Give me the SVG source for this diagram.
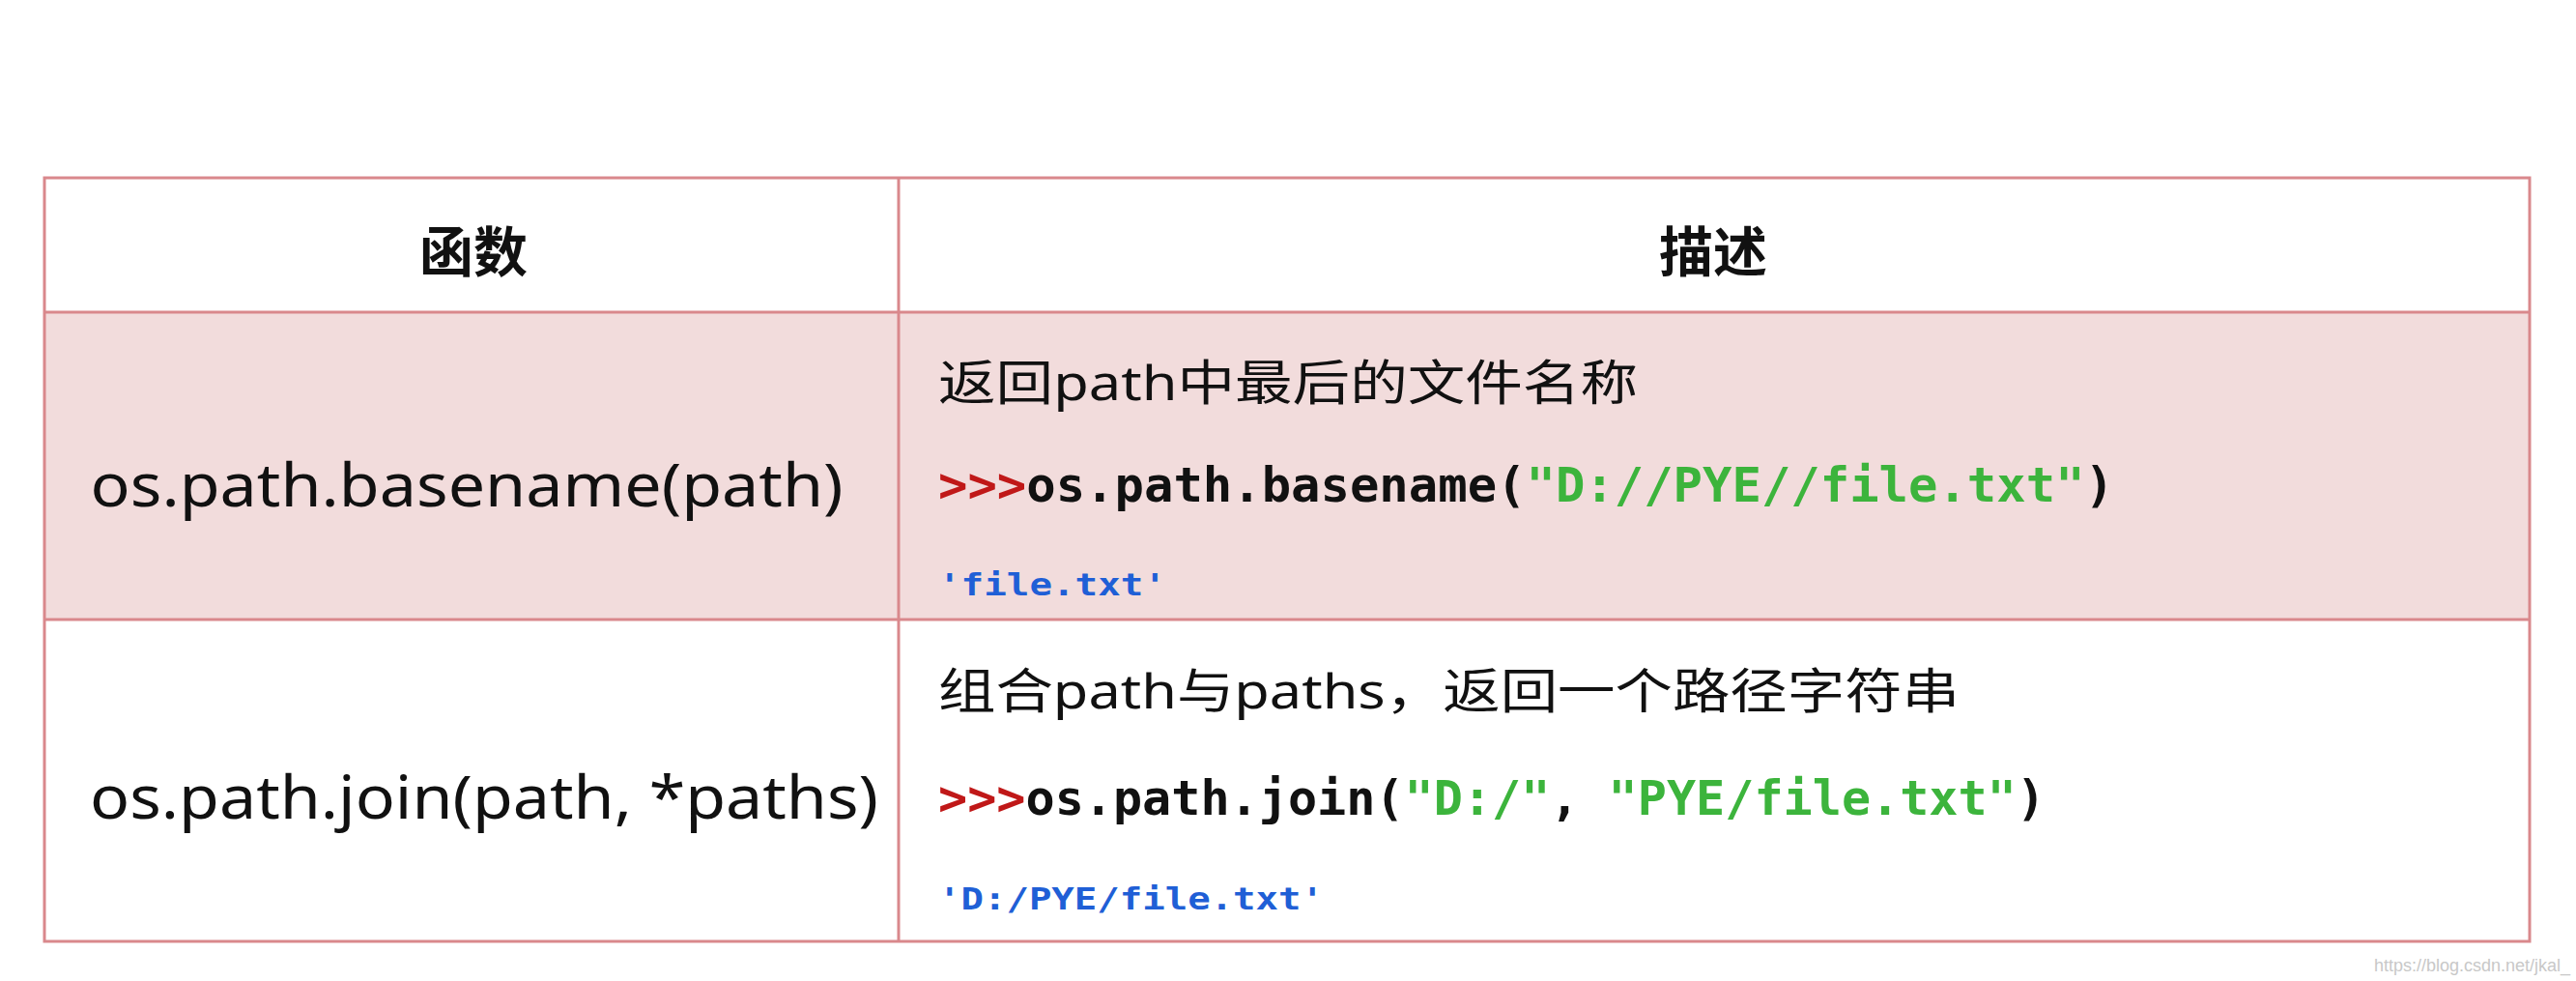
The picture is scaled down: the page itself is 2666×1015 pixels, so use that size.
<svg xmlns="http://www.w3.org/2000/svg" width="2666" height="1015" viewBox="0 0 2666 1015">
<style>
.cn{font-family:"Noto Sans","Noto Sans CJK SC",sans-serif;fill:#111}
.hd{font-weight:bold;font-size:56px}
.fn{font-size:62px}
.ds{font-size:50px}
.code{font-family:"DejaVu Sans Mono","Liberation Mono",monospace;font-weight:bold;font-size:50px;fill:#111}
.res{font-family:"DejaVu Sans Mono","Liberation Mono",monospace;font-weight:bold;font-size:32px;fill:#1f5fd6}
.pr{fill:#c01818}.st{fill:#3cb43c}
.grid{stroke:#d9888c;stroke-width:3;fill:none}
</style>
<rect width="2666" height="1015" fill="#fff"/>
<g id="table">
<rect x="46" y="323" width="2572" height="318" fill="#f2dcdc"/>
<rect x="46" y="184" width="2572" height="790" class="grid"/>
<line x1="46" y1="323" x2="2618" y2="323" class="grid"/>
<line x1="46" y1="641" x2="2618" y2="641" class="grid"/>
<line x1="930" y1="184" x2="930" y2="974" class="grid"/>
</g>
<g id="header">
<text x="490" y="281" text-anchor="middle" class="cn hd">函数</text>
<text x="1773" y="281" text-anchor="middle" class="cn hd">描述</text>
</g>
<g id="row1">
<text x="483" y="524" text-anchor="middle" class="cn fn" textLength="779" lengthAdjust="spacingAndGlyphs">os.path.basename(path)</text>
<text x="971" y="414" class="cn ds" textLength="724" lengthAdjust="spacingAndGlyphs">返回path中最后的文件名称</text>
<text x="971" y="519" class="code" textLength="1217" lengthAdjust="spacingAndGlyphs"><tspan class="pr">&gt;&gt;&gt;</tspan>os.path.basename(<tspan class="st">"D://PYE//file.txt"</tspan>)</text>
<text x="971" y="616" class="res" textLength="236" lengthAdjust="spacingAndGlyphs">'file.txt'</text>
</g>
<g id="row2">
<text x="501" y="847" text-anchor="middle" class="cn fn" textLength="816" lengthAdjust="spacingAndGlyphs">os.path.join(path, *paths)</text>
<text x="971" y="733" class="cn ds" textLength="1057" lengthAdjust="spacingAndGlyphs">组合path与paths，返回一个路径字符串</text>
<text x="971" y="843" class="code" textLength="1146" lengthAdjust="spacingAndGlyphs"><tspan class="pr">&gt;&gt;&gt;</tspan>os.path.join(<tspan class="st">"D:/"</tspan>, <tspan class="st">"PYE/file.txt"</tspan>)</text>
<text x="971" y="941" class="res" textLength="399" lengthAdjust="spacingAndGlyphs">'D:/PYE/file.txt'</text>
</g>
<text x="2660" y="1005" text-anchor="end" font-family="Liberation Sans,sans-serif" font-size="18" fill="#c8c8c8">https://blog.csdn.net/jkal_</text>
</svg>
